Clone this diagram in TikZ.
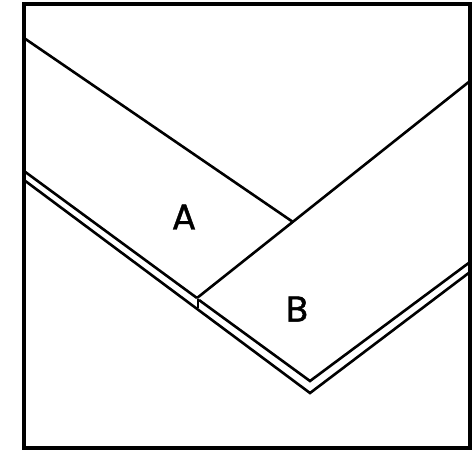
\documentclass[tikz,border=0pt]{standalone}
\usepackage{fontspec}
\setmainfont{Poppins}
\newfontfamily\lblfont{Poppins}[FakeBold=1.2]
\begin{document}
\begin{tikzpicture}[x=0.5pt,y=-0.5pt,
  edge/.style={line width=1.3pt,line join=miter},
  frame/.style={line width=1.8pt},
  lbl/.style={font=\lblfont\fontsize{18}{18}\selectfont}]
\useasboundingbox (0,0) rectangle (474,457);
\draw[frame] (24,4) rectangle (470,448);
% points
\coordinate (aL) at (24,38);
\coordinate (aJ) at (293,222);
\coordinate (bJ) at (197,298);
\coordinate (bR) at (470,81);
\coordinate (lL1) at (24,171);
\coordinate (tkT) at (198,299);
\coordinate (tkB) at (198,308);
\coordinate (m1) at (199,300);
\coordinate (v1) at (310,381);
\coordinate (r1) at (470,262);
\coordinate (lL2) at (24,180);
\coordinate (v2) at (310,393);
\coordinate (r2) at (470,272);
% board A
\draw[edge] (aL) -- (aJ);
\draw[edge] (lL1) -- (bJ);
% board B
\draw[edge] (bJ) -- (bR);
\draw[edge] (tkT) -- (tkB);
\draw[edge] (m1) -- (v1) -- (r1);
\draw[edge] (lL2) -- (v2) -- (r2);
\node[lbl] (A) at (184,217) {A};
\node[lbl] (B) at (297,309) {B};
\end{tikzpicture}
\end{document}
